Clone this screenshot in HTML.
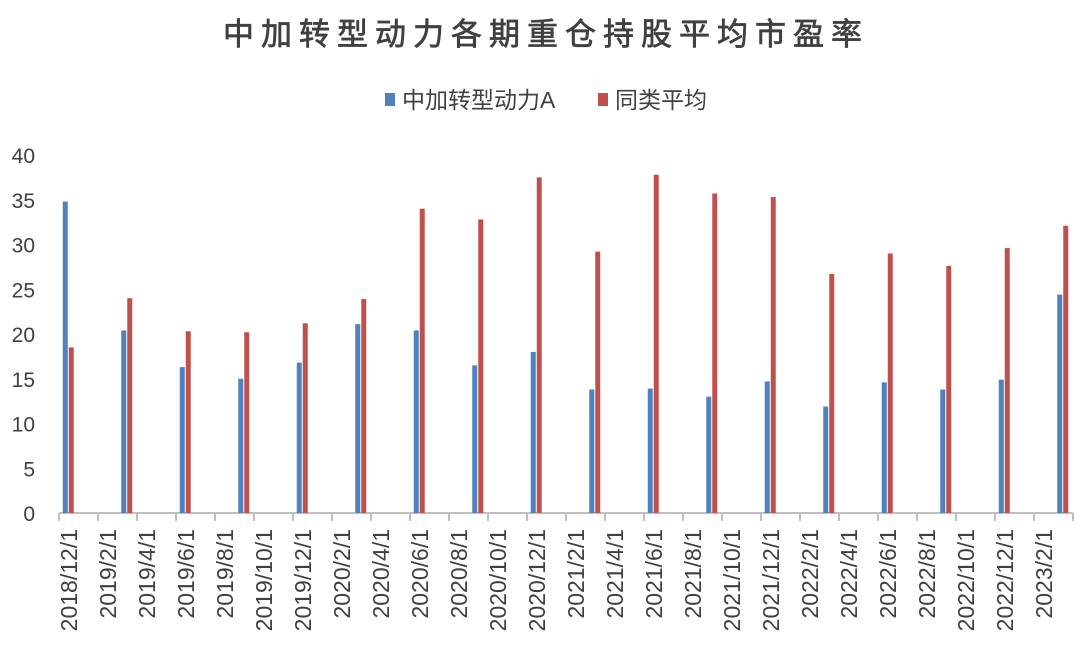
<!DOCTYPE html>
<html><head><meta charset="utf-8"><style>
body{margin:0;background:#fff;}
svg text{font-family:"Liberation Sans","Noto Sans CJK SC",sans-serif;}
</style></head><body>
<svg width="1080" height="649" viewBox="0 0 1080 649">
<text x="546" y="45" text-anchor="middle" font-size="31" fill="#404040" stroke="#404040" stroke-width="0.7" letter-spacing="7">中加转型动力各期重仓持股平均市盈率</text>
<g>
<g><rect x="385" y="93" width="10" height="13" fill="#4f81bd"/><text x="402" y="108" font-size="23" fill="#404040">中加转型动力A</text></g>
<g><rect x="598" y="93" width="10" height="13" fill="#c0504d"/><text x="615" y="108" font-size="23" fill="#404040">同类平均</text></g>
</g>
<g id="yaxis"></g>
<g id="xaxis"></g>
<g id="bars"></g>
</svg>
<script>
const fundValues=[34.8,20.4,16.3,15.0,16.8,21.1,20.4,16.5,18.0,13.8,13.9,13.0,14.7,11.9,14.6,13.8,14.9,24.4];
const peerValues=[18.5,24.0,20.3,20.2,21.2,23.9,34.0,32.8,37.5,29.2,37.8,35.7,35.3,26.7,29.0,27.6,29.6,32.1];
const yTicks=[0,5,10,15,20,25,30,35,40];
const xTickLabels=["2018/12/1","2019/2/1","2019/4/1","2019/6/1","2019/8/1","2019/10/1","2019/12/1","2020/2/1","2020/4/1","2020/6/1","2020/8/1","2020/10/1","2020/12/1","2021/2/1","2021/4/1","2021/6/1","2021/8/1","2021/10/1","2021/12/1","2022/2/1","2022/4/1","2022/6/1","2022/8/1","2022/10/1","2022/12/1","2023/2/1"];
const NS="http://www.w3.org/2000/svg";
const x0=59,mw=19.5,y0=513,yk=(513-155)/40;
const X=m=>x0+m*mw;
const Y=v=>y0-v*yk;
function mk(t,a,p){const e=document.createElementNS(NS,t);for(const k in a)e.setAttribute(k,a[k]);p.appendChild(e);return e;}
const ya=document.getElementById('yaxis'),xa=document.getElementById('xaxis'),bg=document.getElementById('bars');
yTicks.forEach(v=>{const t=mk('text',{x:35,y:Y(v)+8,'text-anchor':'end','font-size':'21',fill:'#404040'},ya);t.textContent=v;

});
mk('line',{x1:x0,x2:X(52),y1:y0,y2:y0,stroke:'#bfbfbf','stroke-width':2},xa);
xTickLabels.forEach((l,i)=>{const m=i*2;mk('line',{x1:X(m),x2:X(m),y1:y0,y2:y0+8,stroke:'#bfbfbf','stroke-width':2},xa);
const cx=X(m)+mw/2+8;const t=mk('text',{x:0,y:0,transform:`translate(${cx},${y0+16}) rotate(-90)`,'text-anchor':'end','font-size':'23',fill:'#404040'},xa);t.textContent=l;

});
mk('line',{x1:X(52),x2:X(52),y1:y0,y2:y0+8,stroke:'#bfbfbf','stroke-width':2},xa);
fundValues.forEach((v,i)=>{const c=X(i*3)+mw/2;
const b=mk('rect',{x:c-6,y:Y(v),width:5,height:v*yk,fill:'#4f81bd'},bg);


const r=mk('rect',{x:c,y:Y(peerValues[i]),width:5,height:peerValues[i]*yk,fill:'#c0504d'},bg);

});
</script>
</body></html>
